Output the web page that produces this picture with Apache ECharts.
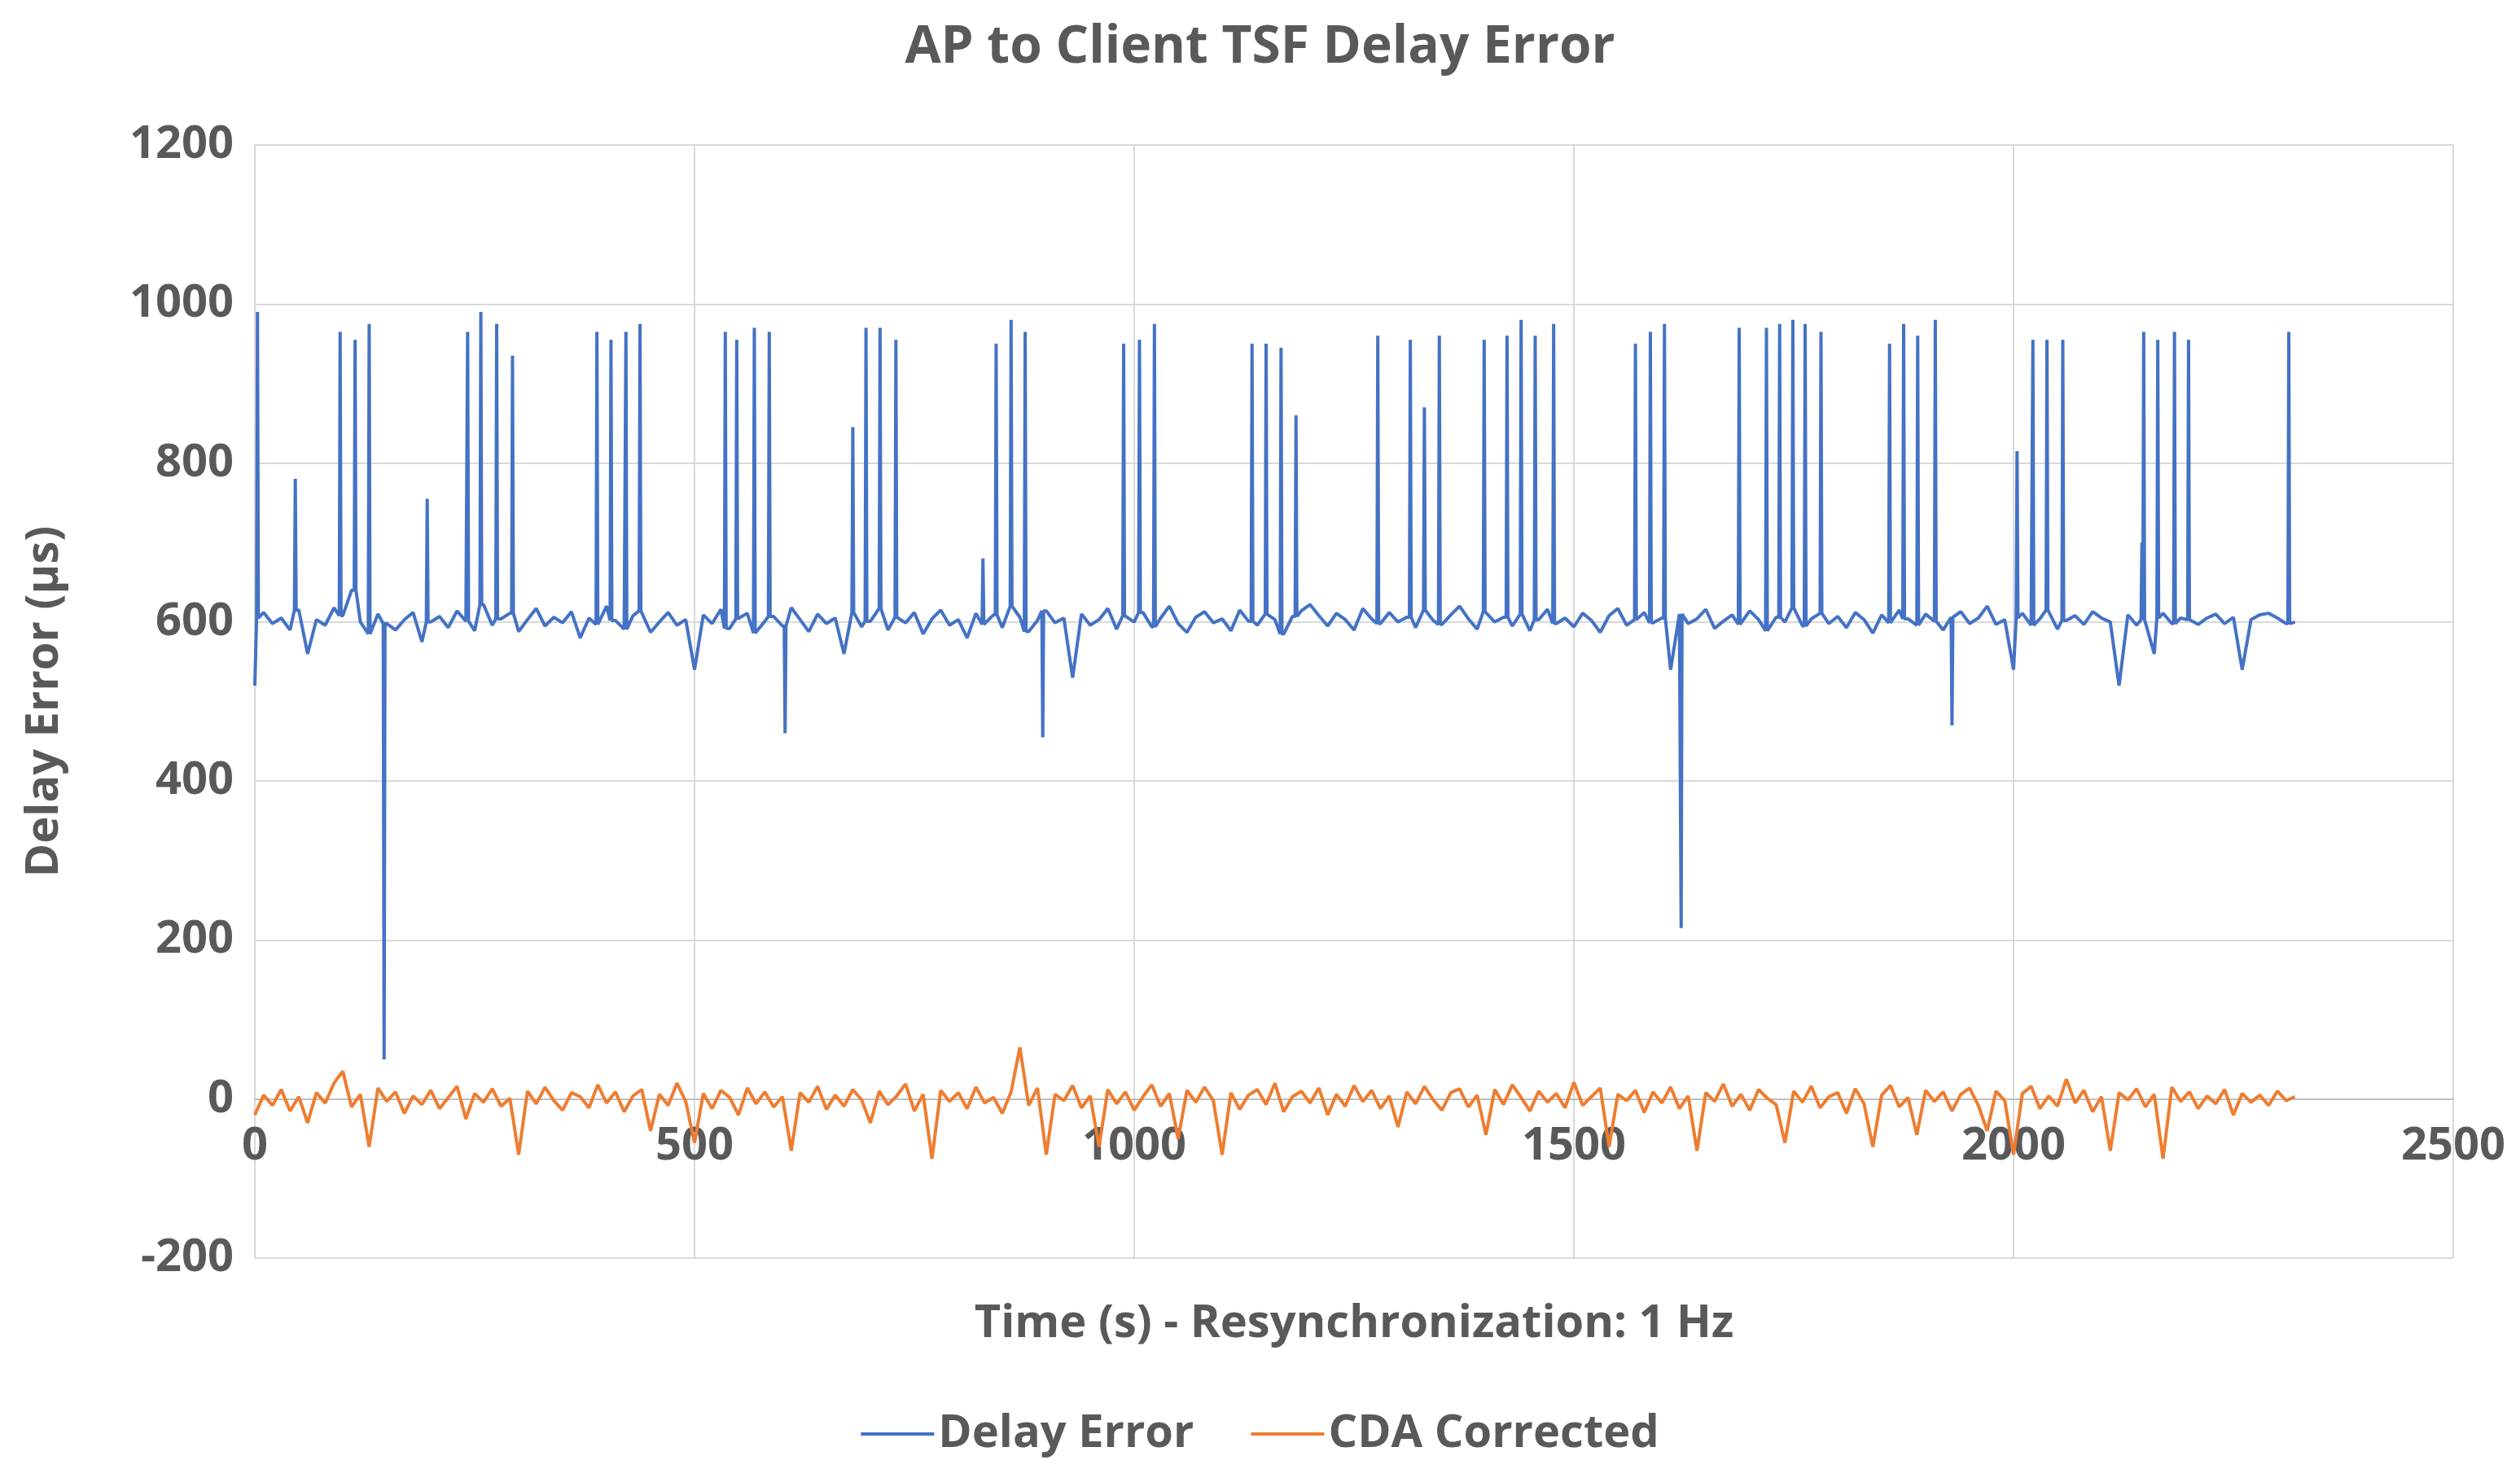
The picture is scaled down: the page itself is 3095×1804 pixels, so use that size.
<!DOCTYPE html>
<html><head><meta charset="utf-8">
<script src="https://cdn.jsdelivr.net/npm/echarts@6/dist/echarts.min.js"></script>
<style>html,body{margin:0;background:#fff}#c{width:3095px;height:1804px}</style>
</head><body><div id="c"></div>
<script>
// Baseline samples every 10 s (µs)
const baseStep = 10;
const delayBase = [
520,612,598,605,590,615,560,603,596,618,608,640,600,585,610,598,590,603,612,575,
600,607,593,614,601,589,622,596,604,611,588,603,617,595,606,599,613,580,605,597,
620,602,591,608,614,587,600,612,596,603,540,609,598,616,592,604,611,586,601,607,
595,618,603,588,610,598,605,560,612,594,601,617,590,606,599,612,585,604,615,596,
603,580,611,597,609,593,620,606,588,602,614,599,605,530,610,596,603,617,591,608,
600,612,594,605,620,598,587,606,613,599,604,589,615,601,596,610,603,585,607,614,
622,608,595,611,603,590,617,604,598,612,600,606,593,615,602,597,609,620,604,591,
613,600,606,595,610,589,603,616,598,605,594,611,602,587,608,617,596,603,612,599,
605,540,610,598,604,616,592,601,609,597,614,603,589,606,600,618,595,604,611,598,
607,593,612,603,586,609,599,615,604,596,610,601,590,606,613,598,605,620,597,603,
540,611,596,604,615,591,602,608,597,613,605,600,520,609,596,603,560,611,598,605,
603,597,605,610,598,606,540,603,609,611,605,598,600
];
const cdaBase = [
-20,5,-8,12,-15,3,-30,8,-5,20,35,-10,6,-60,14,-3,9,-18,4,-7,
11,-12,2,16,-25,7,-4,13,-9,1,-70,10,-6,15,-2,-14,8,3,-11,18,
-5,9,-16,4,12,-40,6,-8,20,-3,-55,7,-12,11,2,-20,14,-6,9,-10,
3,-65,8,-4,16,-13,5,-9,12,-1,-30,10,-7,4,19,-15,6,-75,11,-3,
8,-12,15,-5,2,-18,9,65,-8,14,-70,6,-2,17,-11,4,-60,12,-6,9,
-14,3,18,-9,7,-50,11,-4,15,-2,-70,8,-13,5,12,-7,20,-16,3,10,
-5,14,-20,6,-9,17,-3,11,-12,4,-35,9,-6,16,-1,-14,8,13,-10,5,
-45,12,-7,18,2,-15,10,-4,7,-11,21,-8,3,14,-60,6,-2,11,-17,9,
-5,15,-12,4,-65,8,-3,19,-9,6,-14,12,1,-7,-55,10,-4,16,-11,3,
8,-18,13,-6,-60,5,17,-10,2,-45,11,-3,9,-15,6,14,-8,-40,10,-2,
-70,7,16,-12,4,-9,25,-5,11,-16,3,-65,8,-1,13,-10,6,-75,15,-3,
9,-12,4,-6,12,-20,7,-4,5,-8,10,-2,3
];
// Spikes of the delay-error series: [time s, value µs]
const delaySpikes = [
[3,990],[46,780],[97,965],[114,955],[130,975],[147,50],[196,755],[242,965],[257,990],[275,975],
[293,935],[389,965],[405,955],[422,965],[438,975],[535,965],[548,955],[568,970],[585,965],[603,460],
[680,845],[695,970],[711,970],[729,955],[828,680],[843,950],[860,980],[876,965],[896,455],[988,950],
[1006,955],[1023,975],[1134,950],[1150,950],[1167,945],[1184,860],[1277,960],[1314,955],[1330,870],[1347,960],
[1398,955],[1424,960],[1440,980],[1456,960],[1477,975],[1570,950],[1587,965],[1603,975],[1622,215],[1688,970],
[1719,970],[1734,975],[1749,980],[1763,975],[1781,965],[1859,950],[1875,975],[1891,960],[1911,980],[1930,470],
[2004,815],[2022,955],[2038,955],[2056,955],[2146,700],[2148,965],[2164,955],[2183,965],[2199,955],[2313,965]
];
const xTicks = [0,500,1000,1500,2000,2500];
const yTicks = [-200,0,200,400,600,800,1000,1200];

function build(base, spikes){
  const pts = base.map((v,i)=>[i*baseStep, v]);
  spikes.forEach(([t,v])=>{
    const i = Math.min(base.length-1, Math.round(t/baseStep));
    const b = base[i] < 580 ? 605 : base[i];
    pts.push([t-1,b],[t,v],[t+1,b]);
  });
  return pts.sort((a,b)=>a[0]-b[0]);
}
const delayData = build(delayBase, delaySpikes);
const cdaData = cdaBase.map((v,i)=>[i*baseStep, v]);

const txt = '#595959';
const gridTop = 178, gridBottom = 259, H = 1804;
const plotH = H - gridTop - gridBottom;
const zeroOffset = -plotH * (0 - yTicks[0]) / (yTicks[yTicks.length-1] - yTicks[0]);
const chart = echarts.init(document.getElementById('c'));
chart.setOption({
  animation:false,
  title:{text:'AP to Client TSF Delay Error',left:'center',top:22,
    textStyle:{fontFamily:'Open Sans',fontSize:64,fontWeight:'bold',color:txt}},
  grid:{left:313,right:82,top:gridTop,bottom:gridBottom},
  legend:{bottom:10,itemWidth:90,itemHeight:4,itemGap:70,icon:'rect',
    textStyle:{fontFamily:'Open Sans',fontSize:56,fontWeight:'bold',color:txt},
    data:['Delay Error','CDA Corrected']},
  xAxis:{type:'value',min:0,max:2500,interval:500,offset:zeroOffset,
    name:'Time (s) - Resynchronization: 1 Hz',nameLocation:'middle',nameGap:248,
    nameTextStyle:{fontFamily:'Open Sans',fontSize:56,fontWeight:'bold',color:txt},
    axisLine:{onZero:false,lineStyle:{color:'#bfbfbf',width:2}},axisTick:{show:false},
    axisLabel:{fontFamily:'Open Sans',fontSize:56,fontWeight:'bold',color:txt,margin:30,
      formatter:v=>String(v)},
    splitLine:{lineStyle:{color:'#d9d9d9',width:2}}},
  yAxis:{type:'value',min:-200,max:1200,interval:200,
    name:'Delay Error (µs)',nameLocation:'middle',nameGap:230,
    nameTextStyle:{fontFamily:'Open Sans',fontSize:56,fontWeight:'bold',color:txt},
    axisLine:{show:true,lineStyle:{color:'#d9d9d9',width:2}},axisTick:{show:false},
    axisLabel:{fontFamily:'Open Sans',fontSize:56,fontWeight:'bold',color:txt,margin:26,
      formatter:v=>String(v)},
    splitLine:{lineStyle:{color:'#d9d9d9',width:2}}},
  series:[
    {name:'Delay Error',type:'line',data:delayData,showSymbol:false,
     lineStyle:{color:'#4472C4',width:4},itemStyle:{color:'#4472C4'}},
    {name:'CDA Corrected',type:'line',data:cdaData,showSymbol:false,
     lineStyle:{color:'#ED7D31',width:4},itemStyle:{color:'#ED7D31'}}
  ]
});
</script></body></html>
